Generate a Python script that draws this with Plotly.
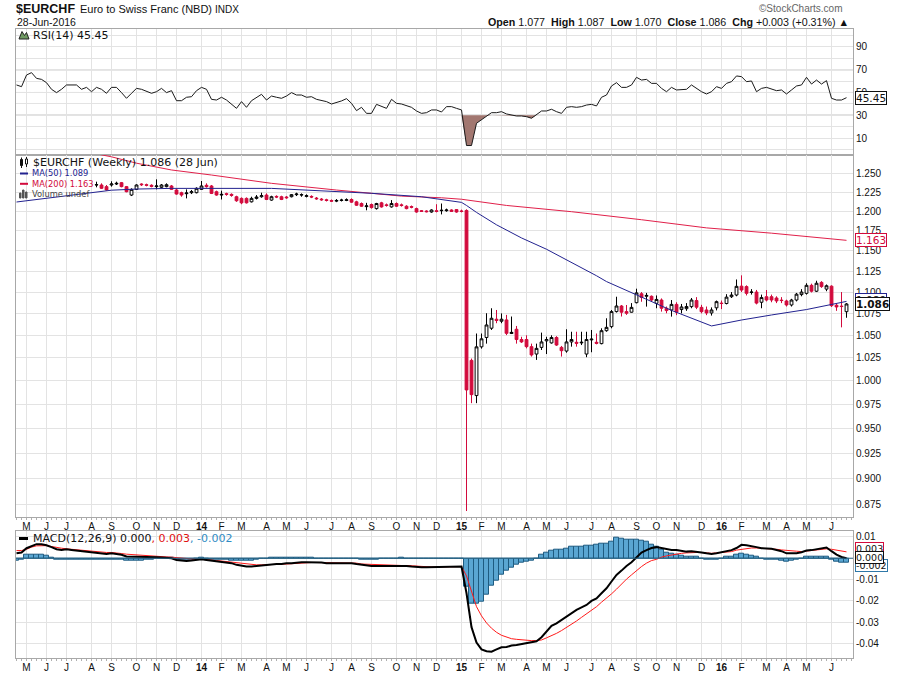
import math
import pandas as pd
import plotly.graph_objects as go

W, H = 900, 673

# ---------------- weekly candles (first bar week of 2013-08-12) ----------------
bar_start = "2013-08-12"
opens = [1.2344, 1.2344, 1.2322, 1.2344, 1.2357, 1.2375, 1.2322, 1.2211, 1.2286, 1.2357,
         1.2348, 1.2340, 1.2322, 1.2313, 1.2322, 1.2331, 1.2278, 1.2242, 1.2229, 1.2242,
         1.2242, 1.2286, 1.2340, 1.2331, 1.2255, 1.2211, 1.2229, 1.2220, 1.2189, 1.2167,
         1.2167, 1.2122, 1.2167, 1.2189, 1.2211, 1.2145, 1.2193, 1.2189, 1.2185, 1.2189,
         1.2216, 1.2211, 1.2193, 1.2193, 1.2171, 1.2158, 1.2149, 1.2140, 1.2131, 1.2140,
         1.2140, 1.2153, 1.2122, 1.2100, 1.2060, 1.2087, 1.2034, 1.2109, 1.2083, 1.2056,
         1.2100, 1.2083, 1.2065, 1.2060, 1.2034, 1.2007, 1.2003, 1.1990, 1.2007, 1.2007,
         1.2007, 1.2016, 1.2021, 1.2003,
         1.2010, 1.0220, 0.9840, 1.0370, 1.0475, 1.0580,
         1.0683, 1.0660, 1.0675, 1.0520, 1.0568, 1.0452, 1.0452, 1.0372, 1.0290, 1.0364,
         1.0437, 1.0414, 1.0475, 1.0364, 1.0323, 1.0425, 1.0421, 1.0414, 1.0290, 1.0448,
         1.0421, 1.0406, 1.0552, 1.0598, 1.0771, 1.0836, 1.0771, 1.0764, 1.0875, 1.0980,
         1.0950, 1.0950, 1.0867, 1.0906, 1.0810, 1.0790, 1.0855, 1.0795, 1.0805, 1.0829,
         1.0900, 1.0820, 1.0790, 1.0755, 1.0815, 1.0870, 1.0865, 1.0945, 1.0965, 1.1070,
         1.1065, 1.0995, 1.1000, 1.0880, 1.0945, 1.0945, 1.0930, 1.0905, 1.0895, 1.0848,
         1.0906, 1.0970, 1.0985, 1.1080, 1.1010, 1.1115, 1.1035, 1.1070, 1.0845, 1.0835, 1.0770]
highs = [1.2388, 1.2366, 1.2344, 1.2393, 1.2388, 1.2384, 1.2331, 1.2300, 1.2353, 1.2366,
         1.2362, 1.2353, 1.2419, 1.2357, 1.2366, 1.2344, 1.2291, 1.2255, 1.2286, 1.2278,
         1.2313, 1.2397, 1.2366, 1.2344, 1.2269, 1.2269, 1.2242, 1.2233, 1.2202, 1.2180,
         1.2180, 1.2189, 1.2211, 1.2242, 1.2233, 1.2202, 1.2207, 1.2202, 1.2198, 1.2224,
         1.2242, 1.2233, 1.2220, 1.2207, 1.2185, 1.2171, 1.2162, 1.2153, 1.2158, 1.2162,
         1.2167, 1.2167, 1.2136, 1.2114, 1.2109, 1.2100, 1.2109, 1.2122, 1.2100, 1.2145,
         1.2114, 1.2100, 1.2078, 1.2074, 1.2047, 1.2016, 1.2012, 1.2025, 1.2091, 1.2100,
         1.2034, 1.2025, 1.2029, 1.2021,
         1.2025, 1.0240, 1.0520, 1.0520, 1.0752, 1.0810,
         1.0790, 1.0750, 1.0733, 1.0714, 1.0606, 1.0483, 1.0500, 1.0406, 1.0406, 1.0530,
         1.0483, 1.0500, 1.0490, 1.0380, 1.0568, 1.0540, 1.0540, 1.0540, 1.0540, 1.0560,
         1.0520, 1.0579, 1.0694, 1.0790, 1.0945, 1.0848, 1.0848, 1.0870, 1.1040, 1.1000,
         1.0990, 1.0960, 1.0960, 1.0925, 1.0830, 1.0906, 1.0880, 1.0860, 1.0870, 1.0930,
         1.0940, 1.0850, 1.0830, 1.0820, 1.0900, 1.0900, 1.0975, 1.1000, 1.1150, 1.1200,
         1.1080, 1.1035, 1.1025, 1.0970, 1.1024, 1.0970, 1.0950, 1.0940, 1.0910, 1.0920,
         1.0990, 1.1035, 1.1105, 1.1100, 1.1135, 1.1130, 1.1090, 1.1080, 1.0865, 1.1000, 1.0870]
lows = [1.2313, 1.2291, 1.2269, 1.2322, 1.2344, 1.2313, 1.2247, 1.2198, 1.2278, 1.2331,
        1.2326, 1.2313, 1.2286, 1.2304, 1.2313, 1.2278, 1.2216, 1.2189, 1.2167, 1.2224,
        1.2233, 1.2278, 1.2309, 1.2224, 1.2202, 1.2153, 1.2202, 1.2189, 1.2122, 1.2091,
        1.2100, 1.2114, 1.2153, 1.2176, 1.2145, 1.2136, 1.2171, 1.2145, 1.2162, 1.2180,
        1.2198, 1.2189, 1.2180, 1.2171, 1.2149, 1.2136, 1.2127, 1.2122, 1.2118, 1.2127,
        1.2131, 1.2109, 1.2069, 1.2056, 1.2012, 1.2034, 1.2021, 1.2047, 1.2060, 1.2047,
        1.2056, 1.2060, 1.2025, 1.2038, 1.1981, 1.1990, 1.1985, 1.1981, 1.1985, 1.1959,
        1.1994, 1.1990, 1.1981, 1.1985,
        0.8690, 0.9760, 0.9760, 1.0350, 1.0406, 1.0560,
        1.0637, 1.0637, 1.0502, 1.0514, 1.0406, 1.0414, 1.0353, 1.0262, 1.0225, 1.0335,
        1.0290, 1.0406, 1.0380, 1.0262, 1.0305, 1.0372, 1.0372, 1.0390, 1.0255, 1.0310,
        1.0398, 1.0398, 1.0540, 1.0579, 1.0760, 1.0714, 1.0733, 1.0760, 1.0867, 1.0886,
        1.0829, 1.0886, 1.0810, 1.0771, 1.0752, 1.0713, 1.0730, 1.0750, 1.0780, 1.0810,
        1.0800, 1.0750, 1.0730, 1.0725, 1.0785, 1.0800, 1.0855, 1.0930, 1.0950, 1.1000,
        1.0960, 1.0970, 1.0855, 1.0810, 1.0890, 1.0880, 1.0870, 1.0870, 1.0830, 1.0830,
        1.0890, 1.0950, 1.0970, 1.0995, 1.1000, 1.1050, 1.1010, 1.0825, 1.0780, 1.0590, 1.0700]
closes = [1.2348, 1.2300, 1.2278, 1.2357, 1.2366, 1.2322, 1.2255, 1.2286, 1.2344, 1.2348,
          1.2340, 1.2326, 1.2331, 1.2344, 1.2348, 1.2286, 1.2224, 1.2211, 1.2238, 1.2255,
          1.2300, 1.2331, 1.2322, 1.2233, 1.2211, 1.2220, 1.2220, 1.2207, 1.2136, 1.2109,
          1.2109, 1.2167, 1.2185, 1.2202, 1.2153, 1.2189, 1.2185, 1.2153, 1.2176, 1.2216,
          1.2224, 1.2216, 1.2202, 1.2185, 1.2162, 1.2149, 1.2140, 1.2131, 1.2140, 1.2145,
          1.2149, 1.2118, 1.2078, 1.2065, 1.2069, 1.2047, 1.2100, 1.2056, 1.2074, 1.2100,
          1.2065, 1.2074, 1.2034, 1.2052, 1.1990, 1.1998, 1.1994, 1.2016, 1.1998, 1.2012,
          1.2016, 1.1998, 1.1990, 1.1998,
          0.9900, 0.9850, 1.0370, 1.0460, 1.0617, 1.0694,
          1.0668, 1.0683, 1.0522, 1.0533, 1.0452, 1.0425, 1.0372, 1.0280, 1.0353, 1.0425,
          1.0452, 1.0475, 1.0390, 1.0327, 1.0425, 1.0452, 1.0410, 1.0421, 1.0452, 1.0456,
          1.0410, 1.0552, 1.0590, 1.0771, 1.0836, 1.0764, 1.0752, 1.0820, 1.0990, 1.0936,
          1.0960, 1.0906, 1.0913, 1.0810, 1.0783, 1.0855, 1.0765, 1.0825, 1.0830, 1.0906,
          1.0822, 1.0770, 1.0755, 1.0790, 1.0887, 1.0865, 1.0940, 1.0965, 1.1068, 1.1024,
          1.0985, 1.1000, 1.0870, 1.0935, 1.0906, 1.0906, 1.0895, 1.0900, 1.0848, 1.0906,
          1.0975, 1.1000, 1.1080, 1.1010, 1.1105, 1.1065, 1.1075, 1.0840, 1.0825, 1.0830, 1.0860]

# ---------------- moving averages (sampled points) ----------------
ma50_dates = ["2013-04-22", "2013-08-05", "2013-09-02", "2013-10-07", "2013-11-25", "2014-04-14",
              "2014-06-23", "2014-09-01", "2014-11-10", "2014-12-29", "2015-01-05", "2015-01-12",
              "2015-01-19", "2015-01-26", "2015-02-23", "2015-03-30", "2015-05-04", "2015-06-08",
              "2015-07-13", "2015-07-27", "2015-08-31", "2015-10-05", "2015-10-26", "2015-12-21",
              "2016-02-01", "2016-03-14", "2016-05-02", "2016-06-27"]
ma50 = [1.2120, 1.2237, 1.2275, 1.2290, 1.2299, 1.2299, 1.2268, 1.2234, 1.2189, 1.2124,
        1.2115, 1.2075, 1.2025, 1.1985, 1.1826, 1.1660, 1.1519, 1.1360, 1.1195, 1.1125,
        1.0995, 1.0868, 1.0785, 1.0606, 1.0674, 1.0732, 1.0795, 1.0890]
ma200_dates = ["2013-08-12", "2013-09-02", "2013-10-07", "2013-11-25", "2014-01-20", "2014-04-14",
               "2014-07-14", "2014-10-13", "2014-12-08", "2015-01-05", "2015-03-09", "2015-06-08",
               "2015-09-14", "2015-12-14", "2016-03-14", "2016-06-27"]
ma200 = [1.2765, 1.2724, 1.2637, 1.2545, 1.2477, 1.2366, 1.2277, 1.2197, 1.2175, 1.2156,
         1.2075, 1.1994, 1.1891, 1.1787, 1.1720, 1.1630]

# ---------------- indicators (weekly, first point week of 2013-04-22) ----------------
ind_start = "2013-04-22"
rsi = [56.6, 55.1, 65.3, 67.4, 62.4, 61.5, 58.6, 52.8, 49.9, 52.8, 56.6, 56.6, 56.6, 52.8, 54.5, 50.7,
       54.5, 52.8, 49.3, 54.5, 54.5, 49.9, 44.9, 49.3, 53.6, 52.8,
       50.7, 49.3, 50.7, 53.6, 49.9, 51.6, 42.8, 42.8, 45.8, 46.3,
       51.6, 54.5, 52.8, 44.0, 43.4, 45.8, 43.4, 39.9, 36.1, 42.0,
       37.0, 42.8, 45.8, 48.4, 43.4, 46.9, 45.8, 44.9, 46.9, 49.9,
       47.8, 47.8, 45.8, 46.3, 44.0, 42.8, 42.0, 39.9, 41.1, 42.6,
       44.6, 40.5, 34.1, 37.0, 31.7, 31.7, 39.6, 37.6, 36.1, 44.0,
       40.5, 39.9, 38.2, 37.0, 33.8, 31.7, 32.3, 34.7, 34.7, 32.9,
       37.6, 37.6, 36.1, 34.7, 3.5, 3.5, 23.0, 25.9, 29.4, 32.3,
       32.3, 33.2, 31.2, 30.3, 29.4, 29.4, 28.8, 27.4, 30.3, 33.8,
       33.8, 35.3, 33.2, 31.7, 37.0, 37.6, 37.0, 37.6, 39.0, 39.6,
       38.2, 45.8, 47.8, 55.7, 58.6, 54.5, 54.5, 56.6, 63.3, 60.9,
       61.5, 58.0, 58.0, 53.6, 50.7, 54.5, 52.2, 52.8, 52.8, 56.6,
       53.6, 50.7, 48.7, 50.7, 55.1, 53.6, 58.0, 59.5, 64.5, 63.9,
       59.5, 60.1, 50.7, 53.6, 54.5, 53.1, 51.6, 52.2, 48.7, 52.2,
       55.7, 56.6, 63.3, 57.4, 60.9, 57.4, 60.4, 44.9, 43.4, 43.4, 45.45]
macd = [0.0023, 0.0027, 0.0047, 0.0058, 0.0066, 0.0066, 0.0061, 0.0052, 0.0042, 0.0039, 0.0042, 0.0039, 0.0036, 0.0036, 0.0031, 0.0027,
        0.0027, 0.0023, 0.0020, 0.0023, 0.0020, 0.0016, 0.0008, 0.0008, 0.0008, 0.0008,
        0.0008, 0.0005, 0.0005, 0.0003, 0.0003, 0.0000, -0.0008, -0.0011, -0.0013, -0.0011,
        -0.0008, -0.0005, -0.0008, -0.0011, -0.0016, -0.0017, -0.0020, -0.0023, -0.0031, -0.0036,
        -0.0039, -0.0039, -0.0036, -0.0033, -0.0031, -0.0030, -0.0027, -0.0027, -0.0023, -0.0023,
        -0.0020, -0.0019, -0.0019, -0.0019, -0.0020, -0.0020, -0.0023, -0.0023, -0.0023, -0.0023,
        -0.0023, -0.0023, -0.0027, -0.0031, -0.0034, -0.0036, -0.0036, -0.0036, -0.0036, -0.0036,
        -0.0036, -0.0033, -0.0036, -0.0039, -0.0042, -0.0042, -0.0042, -0.0042, -0.0042, -0.0042,
        -0.0042, -0.0041, -0.0039, -0.0039, -0.0164, -0.0323, -0.0395, -0.0427, -0.0436, -0.0438,
        -0.0427, -0.0417, -0.0416, -0.0409, -0.0406, -0.0402, -0.0398, -0.0395, -0.0389, -0.0370,
        -0.0344, -0.0317, -0.0305, -0.0289, -0.0273, -0.0256, -0.0242, -0.0230, -0.0219, -0.0200,
        -0.0188, -0.0164, -0.0141, -0.0109, -0.0078, -0.0058, -0.0036, -0.0019, 0.0003, 0.0027,
        0.0038, 0.0048, 0.0052, 0.0047, 0.0042, 0.0039, 0.0039, 0.0036, 0.0031, 0.0033,
        0.0031, 0.0027, 0.0023, 0.0020, 0.0023, 0.0027, 0.0033, 0.0038, 0.0048, 0.0063,
        0.0061, 0.0058, 0.0052, 0.0047, 0.0047, 0.0044, 0.0039, 0.0033, 0.0023, 0.0023,
        0.0023, 0.0028, 0.0036, 0.0038, 0.0042, 0.0047, 0.0050, 0.0033, 0.0017, 0.0006, 0.0000]
signal = [0.0036, 0.0036, 0.0042, 0.0052, 0.0058, 0.0059, 0.0059, 0.0055, 0.0050, 0.0047, 0.0044, 0.0042, 0.0039, 0.0038, 0.0034, 0.0031,
          0.0030, 0.0028, 0.0027, 0.0027, 0.0023, 0.0022, 0.0019, 0.0017, 0.0016, 0.0014,
          0.0013, 0.0011, 0.0009, 0.0008, 0.0006, 0.0005, 0.0003, 0.0000, -0.0003, -0.0005,
          -0.0005, -0.0005, -0.0006, -0.0008, -0.0011, -0.0013, -0.0016, -0.0019, -0.0020, -0.0023,
          -0.0027, -0.0030, -0.0031, -0.0031, -0.0031, -0.0031, -0.0030, -0.0028, -0.0027, -0.0025,
          -0.0023, -0.0022, -0.0020, -0.0020, -0.0020, -0.0020, -0.0020, -0.0022, -0.0022, -0.0022,
          -0.0022, -0.0023, -0.0023, -0.0027, -0.0028, -0.0030, -0.0031, -0.0033, -0.0033, -0.0034,
          -0.0034, -0.0034, -0.0034, -0.0036, -0.0038, -0.0039, -0.0039, -0.0041, -0.0041, -0.0041,
          -0.0041, -0.0039, -0.0039, -0.0039, -0.0083, -0.0161, -0.0227, -0.0270, -0.0303, -0.0328,
          -0.0347, -0.0361, -0.0370, -0.0377, -0.0380, -0.0383, -0.0384, -0.0386, -0.0386, -0.0383,
          -0.0373, -0.0364, -0.0352, -0.0339, -0.0325, -0.0308, -0.0294, -0.0277, -0.0261, -0.0245,
          -0.0227, -0.0206, -0.0188, -0.0167, -0.0145, -0.0120, -0.0098, -0.0078, -0.0058, -0.0039,
          -0.0023, -0.0011, -0.0005, 0.0005, 0.0011, 0.0016, 0.0019, 0.0023, 0.0025, 0.0027,
          0.0027, 0.0027, 0.0025, 0.0023, 0.0025, 0.0027, 0.0028, 0.0031, 0.0038, 0.0042,
          0.0045, 0.0048, 0.0048, 0.0047, 0.0045, 0.0044, 0.0042, 0.0039, 0.0036, 0.0033,
          0.0033, 0.0031, 0.0033, 0.0036, 0.0039, 0.0042, 0.0044, 0.0042, 0.0038, 0.0031, 0.0030]
hist = [-0.0012, -0.0009, 0.0015, 0.0016, 0.0016, 0.0016, 0.0014, 0.0003, -0.0007, -0.0008, -0.0008, -0.0006, -0.0006, -0.0006, -0.0006, -0.0006,
        -0.0006, -0.0006, -0.0008, -0.0006, -0.0006, -0.0008, -0.0010, -0.0011, -0.0011, -0.0010,
        -0.0009, -0.0007, 0.0002, 0.0002, 0.0002, 0.0002, -0.0006, -0.0006, -0.0006, -0.0005,
        -0.0002, 0.0001, -0.0002, -0.0005, -0.0007, -0.0008, -0.0009, -0.0010, -0.0011, -0.0012,
        -0.0012, -0.0010, -0.0006, -0.0002, 0.0000, 0.0001, 0.0002, 0.0002, 0.0003, 0.0004,
        0.0004, 0.0004, 0.0003, 0.0002, 0.0000, 0.0000, -0.0002, -0.0002, -0.0002, -0.0002,
        -0.0001, 0.0000, -0.0003, -0.0005, -0.0006, -0.0006, -0.0005, -0.0003, -0.0003, -0.0002,
        -0.0001, 0.0001, -0.0001, -0.0003, -0.0004, -0.0004, -0.0003, -0.0002, -0.0002, -0.0002,
        -0.0002, -0.0001, 0.0000, 0.0000, -0.0133, -0.0214, -0.0214, -0.0203, -0.0172, -0.0130,
        -0.0105, -0.0078, -0.0058, -0.0042, -0.0031, -0.0023, -0.0016, -0.0011, 0.0000, 0.0016,
        0.0028, 0.0036, 0.0042, 0.0042, 0.0047, 0.0055, 0.0055, 0.0055, 0.0058, 0.0058,
        0.0063, 0.0067, 0.0070, 0.0078, 0.0094, 0.0091, 0.0086, 0.0086, 0.0089, 0.0083,
        0.0078, 0.0063, 0.0055, 0.0039, 0.0027, 0.0019, 0.0016, 0.0011, 0.0008, 0.0008,
        0.0005, 0.0000, -0.0008, -0.0008, -0.0005, 0.0000, 0.0008, 0.0008, 0.0016, 0.0019,
        0.0016, 0.0011, 0.0005, 0.0000, -0.0005, -0.0005, -0.0008, -0.0011, -0.0016, -0.0011,
        -0.0008, 0.0000, 0.0005, 0.0008, 0.0008, 0.0008, 0.0008, -0.0008, -0.0016, -0.0020, -0.0022]

# ---------------- axis ticks ----------------
month_ticks = ["2013-05-06", "2013-06-03", "2013-07-01", "2013-08-05", "2013-09-02", "2013-10-07",
               "2013-11-04", "2013-12-02", "2014-01-06", "2014-02-03", "2014-03-03", "2014-04-07",
               "2014-05-05", "2014-06-02", "2014-07-07", "2014-08-04", "2014-09-01", "2014-10-06",
               "2014-11-03", "2014-12-01", "2015-01-05", "2015-02-02", "2015-03-02", "2015-04-06",
               "2015-05-04", "2015-06-01", "2015-07-06", "2015-08-03", "2015-09-07", "2015-10-05",
               "2015-11-02", "2015-12-07", "2016-01-04", "2016-02-01", "2016-03-07", "2016-04-04",
               "2016-05-02", "2016-06-06"]
month_labels = ["M", "J", "J", "A", "S", "O", "N", "D", "<b>14</b>", "F", "M", "A",
                "M", "J", "J", "A", "S", "O", "N", "D", "<b>15</b>", "F", "M", "A",
                "M", "J", "J", "A", "S", "O", "N", "D", "<b>16</b>", "F", "M", "A", "M", "J"]
year_lines = ["2014-01-06", "2015-01-05", "2016-01-04"]
price_ticks = [0.875, 0.900, 0.925, 0.950, 0.975, 1.000, 1.025, 1.050, 1.075, 1.100,
               1.125, 1.150, 1.175, 1.200, 1.225, 1.250]
rsi_ticks = [0, 10, 20, 30, 40, 50, 60, 70, 80, 90, 100]
rsi_labels = ["", "10", "", "30", "", "50", "", "70", "", "90", ""]
macd_ticks = [-0.04, -0.03, -0.02, -0.01, 0.0, 0.01]
macd_labels = ["-0.04", "-0.03", "-0.02", "-0.01", "", "0.01"]

bar_dates = pd.date_range(bar_start, periods=len(closes), freq="7D")
ind_dates = pd.date_range(ind_start, periods=len(rsi), freq="7D")

RED = "#d20a3c"
NAVY = "#22228f"
GRID = "#e3e3e3"
FRAME = "#a8a8a8"
SANS = "Liberation Sans, Arial, sans-serif"
DJ = "DejaVu Sans, Verdana, sans-serif"

def px(x):
    return x / W

def py(y):
    return 1 - y / H

fig = go.Figure()

# RSI with shading below 30
fig.add_trace(go.Scatter(x=ind_dates, y=[30] * len(rsi), mode="lines", line=dict(width=0),
                         hoverinfo="skip", xaxis="x", yaxis="y"))
fig.add_trace(go.Scatter(x=ind_dates, y=[min(v, 30) for v in rsi], mode="lines", line=dict(width=0),
                         fill="tonexty", fillcolor="#a27770", hoverinfo="skip", xaxis="x", yaxis="y"))
fig.add_trace(go.Scatter(x=ind_dates, y=rsi, mode="lines", line=dict(color="#1a1a1a", width=1),
                         xaxis="x", yaxis="y"))

# Price candles and moving averages
fig.add_trace(go.Candlestick(x=bar_dates, open=opens, high=highs, low=lows, close=closes,
                             xaxis="x2", yaxis="y2", whiskerwidth=0,
                             increasing=dict(line=dict(color="#000000", width=1), fillcolor="#ffffff"),
                             decreasing=dict(line=dict(color=RED, width=1), fillcolor=RED),
                             hoverinfo="skip"))
fig.add_trace(go.Scatter(x=ma200_dates, y=ma200, mode="lines", line=dict(color="#e0204a", width=1),
                         xaxis="x2", yaxis="y2"))
fig.add_trace(go.Scatter(x=ma50_dates, y=ma50, mode="lines", line=dict(color=NAVY, width=1),
                         xaxis="x2", yaxis="y2"))

# MACD
fig.add_trace(go.Bar(x=ind_dates, y=hist, width=7 * 86400000, marker=dict(color="#5aa6d2",
                     line=dict(color="#1e5b80", width=1)), xaxis="x3", yaxis="y3"))
fig.add_trace(go.Scatter(x=ind_dates, y=signal, mode="lines", line=dict(color="#ff1a1a", width=1),
                         xaxis="x3", yaxis="y3"))
fig.add_trace(go.Scatter(x=ind_dates, y=macd, mode="lines", line=dict(color="#000000", width=2),
                         xaxis="x3", yaxis="y3"))

x_range = ["2013-04-21 07:00", "2016-07-06 02:00"]
xd = [16 / W, 853 / W]
common_x = dict(type="date", range=x_range, domain=xd, tickmode="array", tickvals=month_ticks,
                ticktext=month_labels, showgrid=True, gridcolor=GRID, gridwidth=1,
                showline=True, linecolor=FRAME, linewidth=1, mirror=True, zeroline=False,
                ticks="", tickfont=dict(family=SANS, size=10, color="#111"), automargin=False,
                minor=dict(ticks="outside", ticklen=2, tickcolor="#b0b0b0",
                           dtick=7 * 86400000, tick0="2013-04-22"))
common_y = dict(side="right", showgrid=True, gridcolor=GRID, showline=True, linecolor=FRAME,
                linewidth=1, mirror=True, zeroline=False, ticks="", automargin=False,
                tickfont=dict(family=SANS, size=10, color="#111"))

fig.update_layout(
    width=W, height=H, autosize=False, template="none",
    margin=dict(l=0, r=0, t=0, b=0),
    paper_bgcolor="white", plot_bgcolor="white",
    showlegend=False, hovermode=False, bargap=0, boxgap=0.2,
    font=dict(family=SANS, size=11, color="#111"),
    xaxis=dict(common_x, anchor="y", showticklabels=False, minor=dict(ticks="")),
    xaxis2=dict(common_x, anchor="y2", matches="x", showticklabels=True,
                rangeslider=dict(visible=False)),
    xaxis3=dict(common_x, anchor="y3", matches="x", showticklabels=True),
    yaxis=dict(common_y, domain=[py(155), py(29.3)], range=[-4.8, 105.4],
               tickmode="array", tickvals=rsi_ticks, ticktext=rsi_labels),
    yaxis2=dict(common_y, domain=[py(516.7), py(155)], type="log",
                range=[math.log10(0.8637), math.log10(1.2749)],
                tickmode="array", tickvals=price_ticks, ticktext=[f"{v:.3f}" for v in price_ticks]),
    yaxis3=dict(common_y, domain=[py(657.7), py(530.7)], range=[-0.0466, 0.0129],
                tickmode="array", tickvals=macd_ticks, ticktext=macd_labels),
)

shapes = []
for yr in year_lines:
    for xr, yr_ref in (("x", "y domain"), ("x2", "y2 domain"), ("x3", "y3 domain")):
        shapes.append(dict(type="line", xref=xr, yref=yr_ref, x0=yr, x1=yr, y0=0, y1=1,
                           line=dict(color="#b8b8b8", width=1), layer="below"))
for lvl in (70, 30):
    shapes.append(dict(type="line", xref="x domain", yref="y", x0=0, x1=1, y0=lvl, y1=lvl,
                       line=dict(color="#6e6e6e", width=1), layer="below"))
shapes.append(dict(type="line", xref="x domain", yref="y", x0=0, x1=1, y0=50, y1=50,
                   line=dict(color="#7a7a7a", width=1, dash="dashdot"), layer="below"))
shapes.append(dict(type="line", xref="x3 domain", yref="y3", x0=0, x1=1, y0=0, y1=0,
                   line=dict(color="#2a6686", width=1)))

def pline(x0, y0, x1, y1, color, width):
    shapes.append(dict(type="line", xref="paper", yref="paper", x0=px(x0), x1=px(x1),
                       y0=py(y0), y1=py(y1), line=dict(color=color, width=width)))

def prect(x0, y0, x1, y1, fill, line):
    shapes.append(dict(type="rect", xref="paper", yref="paper", x0=px(x0), x1=px(x1),
                       y0=py(y1), y1=py(y0), fillcolor=fill, line=dict(color=line, width=1)))

# legend icons
pts = [(19, 39), (22, 31.5), (24.5, 35.5), (26.5, 32.5), (29, 39)]
path = "M " + " L ".join(f"{px(a):.5f},{py(b):.5f}" for a, b in pts) + " Z"
shapes.append(dict(type="path", xref="paper", yref="paper", path=path,
                   fillcolor="#6f9a62", line=dict(color="#222", width=1)))
pline(21.5, 157.5, 21.5, 168, "#111", 1)
prect(20.5, 159.5, 22.5, 165.5, "#111", "#111")
pline(26.5, 157, 26.5, 167, "#111", 1)
prect(25.5, 159, 27.5, 164, "#fff", "#111")
pline(20, 173.5, 28, 173.5, NAVY, 2)
pline(20, 183.8, 28, 183.8, RED, 2)
prect(19.5, 193, 21, 198, "#555", "#555")
prect(22.5, 190, 24, 198, "#555", "#555")
prect(25.5, 192, 27, 198, "#555", "#555")
pline(19, 538.5, 28, 538.5, "#000", 3)
fig.update_layout(shapes=shapes)

ann = []

def text(x, y, s, size, color="#111", family=SANS, anchor="left"):
    ann.append(dict(xref="paper", yref="paper", x=px(x), y=py(y), text=s, showarrow=False,
                    xanchor=anchor, yanchor="middle", font=dict(family=family, size=size, color=color)))

text(14, 9.5, "<b>$EURCHF</b>", 12.5)
text(78, 9.5, "Euro to Swiss Franc (NBD)", 11)
text(213, 9.5, "INDX", 10)
text(15, 22.5, "28-Jun-2016", 10.5)
text(845, 8.5, "©StockCharts.com", 10, color="#666", anchor="right")
text(851, 22, "<b>Open</b> 1.077&nbsp; <b>High</b> 1.087&nbsp; <b>Low</b> 1.070&nbsp; "
     "<b>Close</b> 1.086&nbsp; <b>Chg</b> +0.003 (+0.31%) ▲", 10.7, anchor="right")
text(31, 35, "RSI(14) 45.45", 11, family=DJ)
text(31, 162.7, "$EURCHF (Weekly) 1.086 (28 Jun)", 11, family=DJ)
text(29.5, 173.5, "MA(50) 1.089", 8.3, color=NAVY, family=DJ)
text(29.5, 183.8, "MA(200) 1.163", 8.3, color=RED, family=DJ)
text(29.5, 194.3, "Volume undef", 8.3, color="#444", family=DJ)
text(31, 538.5, "MACD(12,26,9) 0.000<span style='color:#e01010'>, 0.003</span>"
     "<span style='color:#2f8cc4'>, -0.002</span>", 11, family=DJ)

def tag(yref, y, s, color, bold=False, size=10.5, tcolor=None):
    ann.append(dict(xref="paper", yref=yref, x=px(855), y=y, text=(f"<b>{s}</b>" if bold else s),
                    showarrow=False, xanchor="left", yanchor="middle", bgcolor="white",
                    bordercolor=color, borderwidth=1, borderpad=0,
                    font=dict(family=DJ, size=size, color=(tcolor or "#111"))))

tag("y", 45.45, "45.45", "#111")
tag("y2", math.log10(1.163), "1.163", RED, tcolor=RED)
tag("y2", math.log10(1.0905), "1.089", NAVY)
tag("y2", math.log10(1.086), "1.086", "#111", bold=True)
tag("y3", 0.0044, "0.003", RED, size=9.5)
tag("y3", -0.0036, "-0.002", "#2f78a8", size=9.5)
tag("y3", 0.0004, "0.000", "#111", size=9.5)
fig.update_layout(annotations=ann)

fig.write_html("out.html", config={"displayModeBar": False},
               post_script="document.body.style.margin='0';document.body.style.overflow='hidden';")
